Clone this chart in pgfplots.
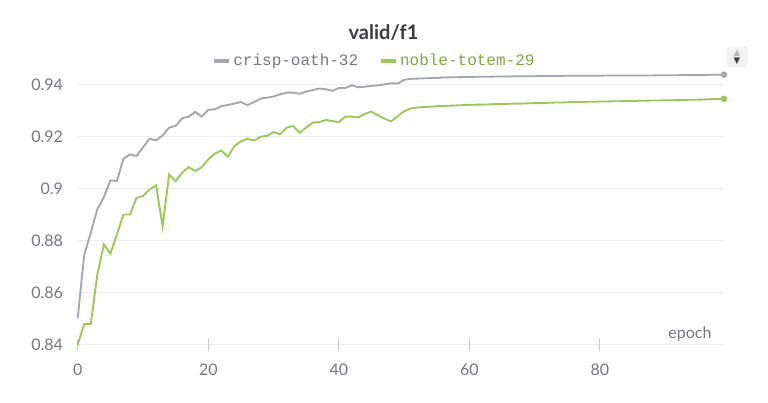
\documentclass[border=0pt]{standalone}
\usepackage{pgfplots}
\pgfplotsset{compat=1.18}
\usepackage{pgfplotstable}
\usepackage{fontspec}
\setmainfont{Lato}
\setmonofont{Liberation Mono}
\newfontfamily\symfont{DejaVu Sans}

\definecolor{crispgray}{HTML}{A3A6AC}
\definecolor{noblegreen}{HTML}{9CC65A}
\definecolor{noblegreentext}{HTML}{7FA441}
\definecolor{ticktext}{HTML}{73767D}
\definecolor{titletext}{HTML}{3A3B3F}
\definecolor{gridgray}{HTML}{EDEDED}

% epoch, crisp-oath-32, noble-totem-29
\pgfplotstableread{
epoch crisp noble
0 0.8504 0.8401
1 0.8747 0.8481
2 0.8831 0.8481
3 0.8921 0.8670
4 0.8968 0.8786
5 0.9032 0.8751
6 0.9030 0.8824
7 0.9115 0.8901
8 0.9132 0.8901
9 0.9126 0.8965
10 0.9159 0.8972
11 0.9192 0.8997
12 0.9186 0.9013
13 0.9205 0.8856
14 0.9235 0.9055
15 0.9241 0.9029
16 0.9271 0.9062
17 0.9277 0.9083
18 0.9295 0.9068
19 0.9277 0.9083
20 0.9303 0.9113
21 0.9305 0.9135
22 0.9317 0.9147
23 0.9322 0.9123
24 0.9327 0.9164
25 0.9333 0.9182
26 0.9321 0.9192
27 0.9333 0.9185
28 0.9346 0.9200
29 0.9350 0.9203
30 0.9354 0.9218
31 0.9363 0.9209
32 0.9369 0.9235
33 0.9369 0.9241
34 0.9365 0.9215
35 0.9373 0.9235
36 0.9379 0.9254
37 0.9385 0.9256
38 0.9382 0.9264
39 0.9376 0.9260
40 0.9387 0.9256
41 0.9387 0.9277
42 0.9397 0.9277
43 0.9390 0.9274
44 0.9392 0.9288
45 0.9395 0.9296
46 0.9397 0.9282
47 0.9401 0.9269
48 0.9405 0.9259
49 0.9404 0.9278
50 0.9418 0.9298
51 0.9422 0.9308
52 0.9423 0.9312
53 0.9424 0.9314
54 0.9425 0.9315
55 0.9426 0.9317
56 0.9427 0.9318
57 0.9428 0.9319
58 0.9428 0.9320
59 0.9429 0.9321
60 0.9429 0.9322
61 0.9430 0.9323
62 0.9430 0.9323
63 0.9430 0.9324
64 0.9431 0.9325
65 0.9431 0.9325
66 0.9431 0.9326
67 0.9432 0.9327
68 0.9432 0.9327
69 0.9432 0.9328
70 0.9432 0.9329
71 0.9433 0.9329
72 0.9433 0.9330
73 0.9433 0.9331
74 0.9433 0.9331
75 0.9434 0.9332
76 0.9434 0.9333
77 0.9434 0.9333
78 0.9434 0.9334
79 0.9434 0.9334
80 0.9434 0.9335
81 0.9435 0.9335
82 0.9435 0.9336
83 0.9435 0.9336
84 0.9435 0.9337
85 0.9435 0.9337
86 0.9435 0.9338
87 0.9435 0.9338
88 0.9435 0.9339
89 0.9436 0.9339
90 0.9436 0.9340
91 0.9436 0.9340
92 0.9436 0.9341
93 0.9437 0.9341
94 0.9437 0.9342
95 0.9437 0.9342
96 0.9437 0.9343
97 0.9438 0.9344
98 0.9438 0.9344
99 0.9438 0.9345
}\datatable

\begin{document}
\begin{tikzpicture}
\path[use as bounding box] (0pt,0pt) rectangle (576pt,302.25pt);
\begin{axis}[
  at={(58.3pt,43.5pt)}, anchor=south west,
  scale only axis, width=484.7pt, height=208pt,
  xmin=0, xmax=99, ymin=0.84, ymax=0.9465,
  xtick={0,20,40,60,80},
  ytick={0.84,0.86,0.88,0.9,0.92,0.94},
  yticklabels={0.84,0.86,0.88,0.9,0.92,0.94},
  axis line style={draw=none},
  ymajorgrids, grid style={gridgray, line width=0.75pt},
  ytick style={draw=none},
  xtick style={gridgray!85!black, line width=0.75pt},
  xtick pos=bottom, tick align=center, major tick length=9pt,
  ticklabel style={font=\fontsize{12}{14}\selectfont, text=ticktext},
  /pgf/number format/assume math mode=true,
  yticklabel style={xshift=-3pt},
  xticklabel style={yshift=-6pt},
  xlabel={epoch},
  xlabel style={at={(axis description cs:0.988,0.022)}, anchor=base east,
    font=\fontsize{12}{14}\selectfont, text=ticktext},
  legend style={at={(axis description cs:0.46,1.024)}, anchor=center,
    draw=none, fill=none, legend columns=2,
    font=\ttfamily\fontsize{12}{14}\selectfont,
    /tikz/every even column/.append style={column sep=14pt}},
  legend image code/.code={\draw[line width=2.4pt] (0pt,0pt) -- (11pt,0pt);},
  clip=false,
]
\addplot[crispgray, line width=1.4pt] table[x=epoch, y=crisp] {\datatable};
\addplot[noblegreen, line width=1.4pt] table[x=epoch, y=noble] {\datatable};
\addplot[crispgray, only marks, mark=*, mark size=2.2pt, forget plot,
  skip coords between index={0}{99}] table[x=epoch, y=crisp] {\datatable};
\addplot[noblegreen, only marks, mark=*, mark size=2.2pt, forget plot,
  skip coords between index={0}{99}] table[x=epoch, y=noble] {\datatable};
\legend{\textcolor{ticktext}{crisp-oath-32}, \textcolor{noblegreentext}{noble-totem-29}}
\end{axis}
\node[font=\bfseries\fontsize{15}{17}\selectfont, text=titletext] at (287.6pt,277.5pt) {valid/f1};
\node[fill=gray!10, rounded corners=2pt, minimum width=16pt, minimum height=15pt, inner sep=0pt] at (552.75pt,259.5pt) {};
\node[font=\symfont\fontsize{6.5}{6.5}\selectfont, text=gray!55, inner sep=0pt] at (552.75pt,262.5pt) {▲};
\node[font=\symfont\fontsize{6.5}{6.5}\selectfont, text=black!75, inner sep=0pt] at (552.75pt,256.5pt) {▼};
\end{tikzpicture}
\end{document}
